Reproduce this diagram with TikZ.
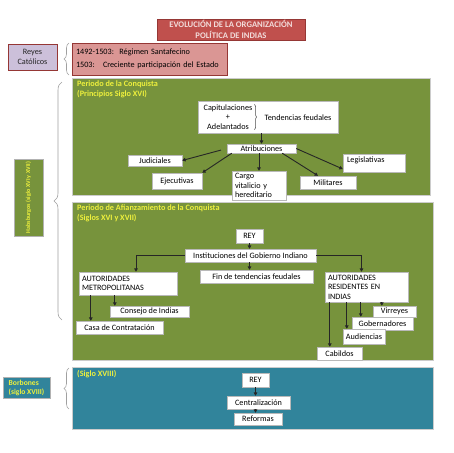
\documentclass[tikz,border=0pt]{standalone}
\usepackage{fontspec}
\setmainfont{Carlito}
\usetikzlibrary{arrows.meta,positioning,decorations.pathreplacing,calc}
\definecolor{titlered}{HTML}{C0504D}
\definecolor{titletext}{HTML}{F2DCDB}
\definecolor{lavender}{HTML}{CCC0DA}
\definecolor{darkred}{HTML}{953735}
\definecolor{rosefill}{HTML}{DA9694}
\definecolor{olive}{HTML}{77933C}
\definecolor{tealfill}{HTML}{31849B}
\definecolor{headyellow}{HTML}{EEF03C}
\definecolor{bracegray}{HTML}{A0A0A0}
\newcommand{\fs}{\fontsize{8.2}{9.6}\selectfont}
\tikzset{
  panel/.style={draw=gray!40, anchor=north west, inner sep=0pt},
  greenpanel/.style={panel, fill=olive},
  tealpanel/.style={panel, fill=tealfill},
  head/.style={anchor=north west, align=left, font=\fs\bfseries, text=headyellow, inner sep=0pt},
  wbox/.style={draw=gray!55, fill=white, font=\fs, inner sep=1pt},
  arr/.style={-{Triangle[length=3.4pt,width=3.6pt]}, line width=0.9pt, draw=black!85},
  brc/.style={decorate, decoration={brace, amplitude=#1}, draw=bracegray, line width=0.6pt}
}
\begin{document}
\begin{tikzpicture}[x=1pt, y=-1pt]
  \useasboundingbox (0,0) rectangle (453,453);
  % titulo
  \node[fill=titlered, draw=darkred, minimum width=148pt, minimum height=21pt, text=titletext,
    font=\fontsize{8.6}{10.2}\selectfont\bfseries, align=center, inner sep=0pt] (title) at (231,29.5)
    {EVOLUCIÓN DE LA ORGANIZACIÓN\\POLÍTICA DE INDIAS};

  % Reyes Catolicos
  \node[fill=lavender, draw=darkred, minimum width=49pt, minimum height=26pt, font=\fs,
    align=center, inner sep=0pt, text=black!85] (reyes) at (32.5,57) {Reyes\\Católicos};
  \node[fill=rosefill, draw=darkred, minimum width=155pt, minimum height=32pt, font=\fs,
    align=left, text width=147pt, inner xsep=4pt] (etapas) at (149.5,59)
    {1492-1503:\ \ Régimen Santafecino\\[3pt]1503:\ \ \ Creciente participación del Estado};
  \draw[brc=5pt] (69,75) -- (69,43);

  % Habsburgos
  \node[rotate=90, fill=olive, draw=gray!60, minimum width=77pt, minimum height=29pt,
    font=\fontsize{6}{7}\selectfont\bfseries, text=headyellow, inner sep=0pt] (habs) at (28.5,197.5)
    {Habsburgos (siglo XVI y XVII)};
  \draw[brc=8pt] (62,320) -- (62,82);

  % Periodo de la Conquista
  \node[greenpanel, minimum width=358pt, minimum height=117pt] (conquista) at (72,78) {};
  \node[head] (conqtit) at (77,81) {Periodo de la Conquista\\(Principios Siglo XVI)};
  \node[wbox, minimum width=140pt, minimum height=32pt] (capit) at (268,117) {};
  \node[font=\fs, align=center, inner sep=0pt] (capnames) at (228,117) {Capitulaciones\\+\\Adelantados};
  \draw[decorate, decoration={brace, amplitude=2pt}, draw=black!70, line width=0.5pt]
    ([xshift=2pt]capnames.north east) -- ([xshift=2pt]capnames.south east);
  \node[font=\fs, inner sep=0pt] (tend) at (298,118) {Tendencias feudales};
  \node[wbox, minimum width=69pt, minimum height=9pt, inner sep=0pt] (atrib) at (261.5,148.5) {Atribuciones};
  \node[wbox, minimum width=54pt, minimum height=11pt] (judic) at (155,160.5) {Judiciales};
  \node[wbox, minimum width=50pt, minimum height=16pt] (ejec) at (177,181) {Ejecutivas};
  \node[wbox, minimum width=54pt, minimum height=29pt, text width=48pt, align=left, inner sep=2pt] (cargo) at (259,185.5)
    {Cargo\\vitalicio y\\hereditario};
  \node[wbox, minimum width=56pt, minimum height=13pt] (milit) at (328,182.5) {Militares};
  \node[wbox, minimum width=62pt, minimum height=18pt, text width=54pt, align=left, text depth=7pt] (legis) at (374,163) {Legislativas};
  \draw[arr] (capit.south -| atrib.north) -- (atrib.north);
  \draw[arr, shorten <=6pt] (atrib.west) -- (judic.east);
  \draw[arr] ([xshift=5pt]atrib.south west) -- (ejec.north east);
  \draw[arr] (atrib.south -| cargo.north) -- (cargo.north);
  \draw[arr] ([xshift=-14pt]atrib.south east) -- ([xshift=-10pt]milit.north);
  \draw[arr] (atrib.east) -- ([yshift=-6pt]legis.west);

  % Periodo de Afianzamiento
  \node[greenpanel, minimum width=361pt, minimum height=158pt] (afianz) at (72,202) {};
  \node[head] (afiantit) at (77,205) {Periodo de Afianzamiento de la Conquista\\(Siglos XVI y XVII)};
  \node[wbox, minimum width=27pt, minimum height=14pt] (rey) at (249.5,236) {REY};
  \node[wbox, minimum width=131pt, minimum height=13pt] (inst) at (250.5,255.5) {Instituciones del Gobierno Indiano};
  \node[wbox, minimum width=113pt, minimum height=13pt] (fin) at (256.5,276.5) {Fin de tendencias feudales};
  \node[wbox, minimum width=98pt, minimum height=23pt, text width=92pt, align=left, inner sep=2pt] (autmet) at (128,283.5)
    {AUTORIDADES\\METROPOLITANAS};
  \node[wbox, minimum width=79pt, minimum height=11pt] (consejo) at (149.5,311.5) {Consejo de Indias};
  \node[wbox, minimum width=87pt, minimum height=13pt] (casa) at (119.5,327.5) {Casa de Contratación};
  \node[wbox, minimum width=83pt, minimum height=30pt, text width=77pt, align=left, inner sep=2pt] (autres) at (366.5,287)
    {AUTORIDADES\\RESIDENTES EN\\INDIAS};
  \node[wbox, minimum width=43pt, minimum height=11pt] (virr) at (394.5,311.5) {Virreyes};
  \node[wbox, minimum width=61pt, minimum height=13pt] (gob) at (382.5,323.5) {Gobernadores};
  \node[wbox, minimum width=42pt, minimum height=15pt] (aud) at (364,336.5) {Audiencias};
  \node[wbox, minimum width=45pt, minimum height=13pt] (cab) at (339.5,353.5) {Cabildos};
  \draw[arr] (rey.south) -- (rey.south |- inst.north);
  \draw[arr] (rey.south |- inst.south) -- (rey.south |- fin.north);
  \draw[arr] (inst.west) -| ([xshift=8pt]autmet.north);
  \draw[arr] (inst.east) -| ([xshift=-5pt]autres.north);
  \draw[arr] ([xshift=12pt]autmet.south west) -- ([xshift=12pt]autmet.south west |- casa.north);
  \draw[arr] ([xshift=36pt]autmet.south west) -- ([xshift=36pt]autmet.south west |- consejo.north);
  \draw[arr] ([xshift=5pt]autres.south west) -- ([xshift=5pt]autres.south west |- cab.north);
  \draw[arr] ([xshift=22pt]autres.south west) -- ([xshift=22pt]autres.south west |- aud.north);
  \draw[arr] ([xshift=36pt]autres.south west) -- ([xshift=36pt]autres.south west |- gob.north);
  \draw[arr] ([xshift=57pt]autres.south west) -- ([xshift=57pt]autres.south west |- virr.north);

  % Borbones
  \node[fill=tealfill, draw=gray!60, minimum width=47pt, minimum height=21pt, align=left,
    font=\fontsize{7.6}{9}\selectfont\bfseries, text=headyellow, inner sep=0pt] (borb) at (26.5,387.5) {Borbones\\(siglo XVIII)};
  \draw[brc=5pt] (69,409) -- (69,368);
  \node[tealpanel, minimum width=361pt, minimum height=62pt] (siglo) at (72,367) {};
  \node[head] (siglotit) at (77,370) {(Siglo XVIII)};
  \node[wbox, minimum width=27pt, minimum height=14pt] (rey2) at (255.5,380) {REY};
  \node[wbox, minimum width=63pt, minimum height=13pt] (central) at (258.5,402.5) {Centralización};
  \node[wbox, minimum width=48pt, minimum height=12pt] (reform) at (258,419) {Reformas};
  \draw[arr] (rey2.south) -- (rey2.south |- central.north);
  \draw[arr] (rey2.south |- central.south) -- (rey2.south |- reform.north);
\end{tikzpicture}
\end{document}
